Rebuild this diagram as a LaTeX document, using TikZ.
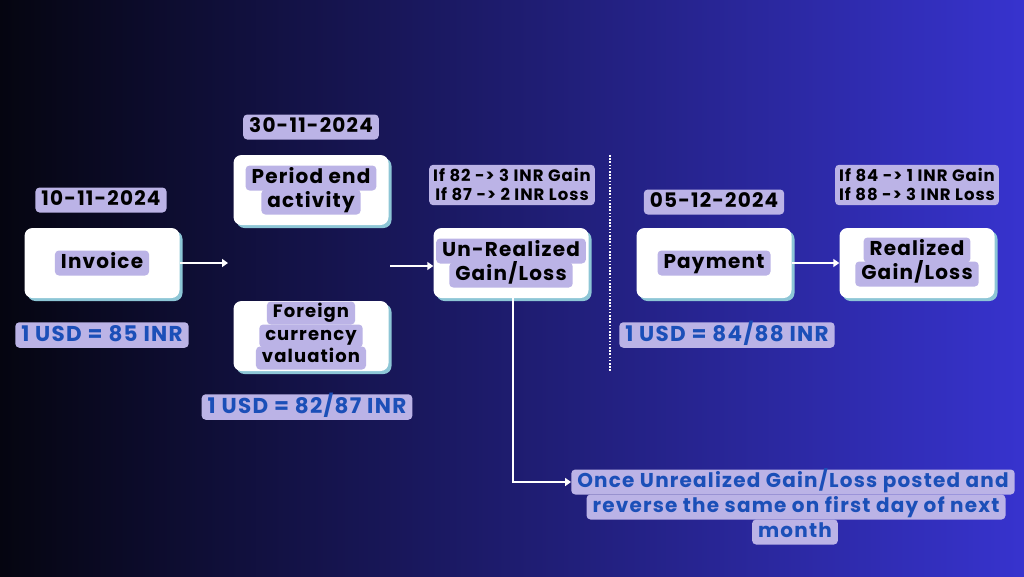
\documentclass[tikz,border=0pt]{standalone}
\usepackage{fontspec}
\setmainfont{Poppins}[LetterSpace=6]
\usetikzlibrary{shadows,arrows.meta}

\definecolor{lav}{HTML}{BBB3E6}
\definecolor{inrblue}{HTML}{1B4FB8}
\definecolor{edge}{HTML}{8DC6D6}
\definecolor{bgleft}{HTML}{050510}
\definecolor{bgright}{HTML}{3733CE}

\tikzset{
  card/.style={fill=white, rounded corners=8pt, minimum width=155pt, minimum height=70pt,
    drop shadow={shadow xshift=3pt, shadow yshift=-3pt, fill=edge, opacity=1}},
  hl/.style={fill=lav, rounded corners=4pt, inner xsep=6pt, inner ysep=3pt, text=black,
    font=\fontsize{20}{22}\selectfont\bfseries, text height=15pt, text depth=4pt},
  hlfc/.style={hl, font=\fontsize{18}{20}\selectfont\bfseries, text height=13pt, text depth=4pt},
  hlblue/.style={hl, text=inrblue},
  hlrate/.style={hlblue, font=\fontsize{21.5}{24}\selectfont\bfseries, text height=16.5pt,
    text depth=3pt, inner ysep=3pt},
  hlsmall/.style={fill=lav, rounded corners=4pt, inner sep=4pt, align=center, text=black,
    font=\fontsize{16.5}{19}\selectfont\bfseries},
  conn/.style={white, line width=2pt, -{Triangle[length=6pt,width=8pt]}},
  divider/.style={white, line width=2pt, dash pattern=on 1.6pt off 1.6pt}
}

\begin{document}
\begin{tikzpicture}[x=1pt, y=-1pt]
\shade[left color=bgleft, right color=bgright] (0,0) rectangle (1024,576);
\useasboundingbox (0,0) rectangle (1024,576);

% invoice
\node[hl] (d1) at (101,200) {10-11-2024};
\node[card] (inv) at (102,263) {};
\node[hl] (invt) at (inv) {Invoice};
\node[hlrate] (r1) at (102,335) {1 USD = 85 INR};

% period end
\node[hl] (d2) at (311,127) {30-11-2024};
\node[card] (pe) at (311,190) {};
\node[hl] (pe1) at (311,178) {Period end};
\node[hl] (pe2) at (311,202) {activity};
\node[card] (fc) at (311,336) {};
\node[hlfc] (fc1) at (311,313) {Foreign};
\node[hlfc] (fc2) at (311,336) {currency};
\node[hlfc] (fc3) at (311,358) {valuation};
\node[hlrate] (r2) at (307,407) {1 USD = 82/87 INR};

\coordinate (gap1) at (228,263);
\coordinate (gap2) at (390,266);
\draw[conn] (inv.east) -- (gap1);

% un-realized
\node[hlsmall] (c1) at (512,185) {If 82 -> 3 INR Gain\\If 87 -> 2 INR Loss};
\node[card] (ur) at (511,263) {};
\node[hl] (ur1) at (511,251) {Un-Realized};
\node[hl] (ur2) at (511,275) {Gain/Loss};
\draw[conn] (gap2) -- (ur.west |- gap2);

\draw[divider] (610,155) -- (610,372);

% payment
\node[hl] (d3) at (714,202) {05-12-2024};
\node[card] (pay) at (714,263) {};
\node[hl] (payt) at (pay) {Payment};
\node[hlrate] (r3) at (727,335) {1 USD = 84/88 INR};

% realized
\node[hlsmall] (c2) at (917,185) {If 84 -> 1 INR Gain\\If 88 -> 3 INR Loss};
\node[card] (rg) at (917,263) {};
\node[hl] (rg1) at (917,250) {Realized};
\node[hl] (rg2) at (917,274) {Gain/Loss};
\draw[conn] (pay) -- (rg);

% reversal note
\node[hlblue] (nt1) at (793,482) {Once Unrealized Gain/Loss posted and};
\node[hlblue] (nt2) at (796,507) {reverse the same on first day of next};
\node[hlblue] (nt3) at (795,532) {month};
\draw[conn] ([xshift=2pt]ur.south) |- (nt1.west);
\end{tikzpicture}
\end{document}
